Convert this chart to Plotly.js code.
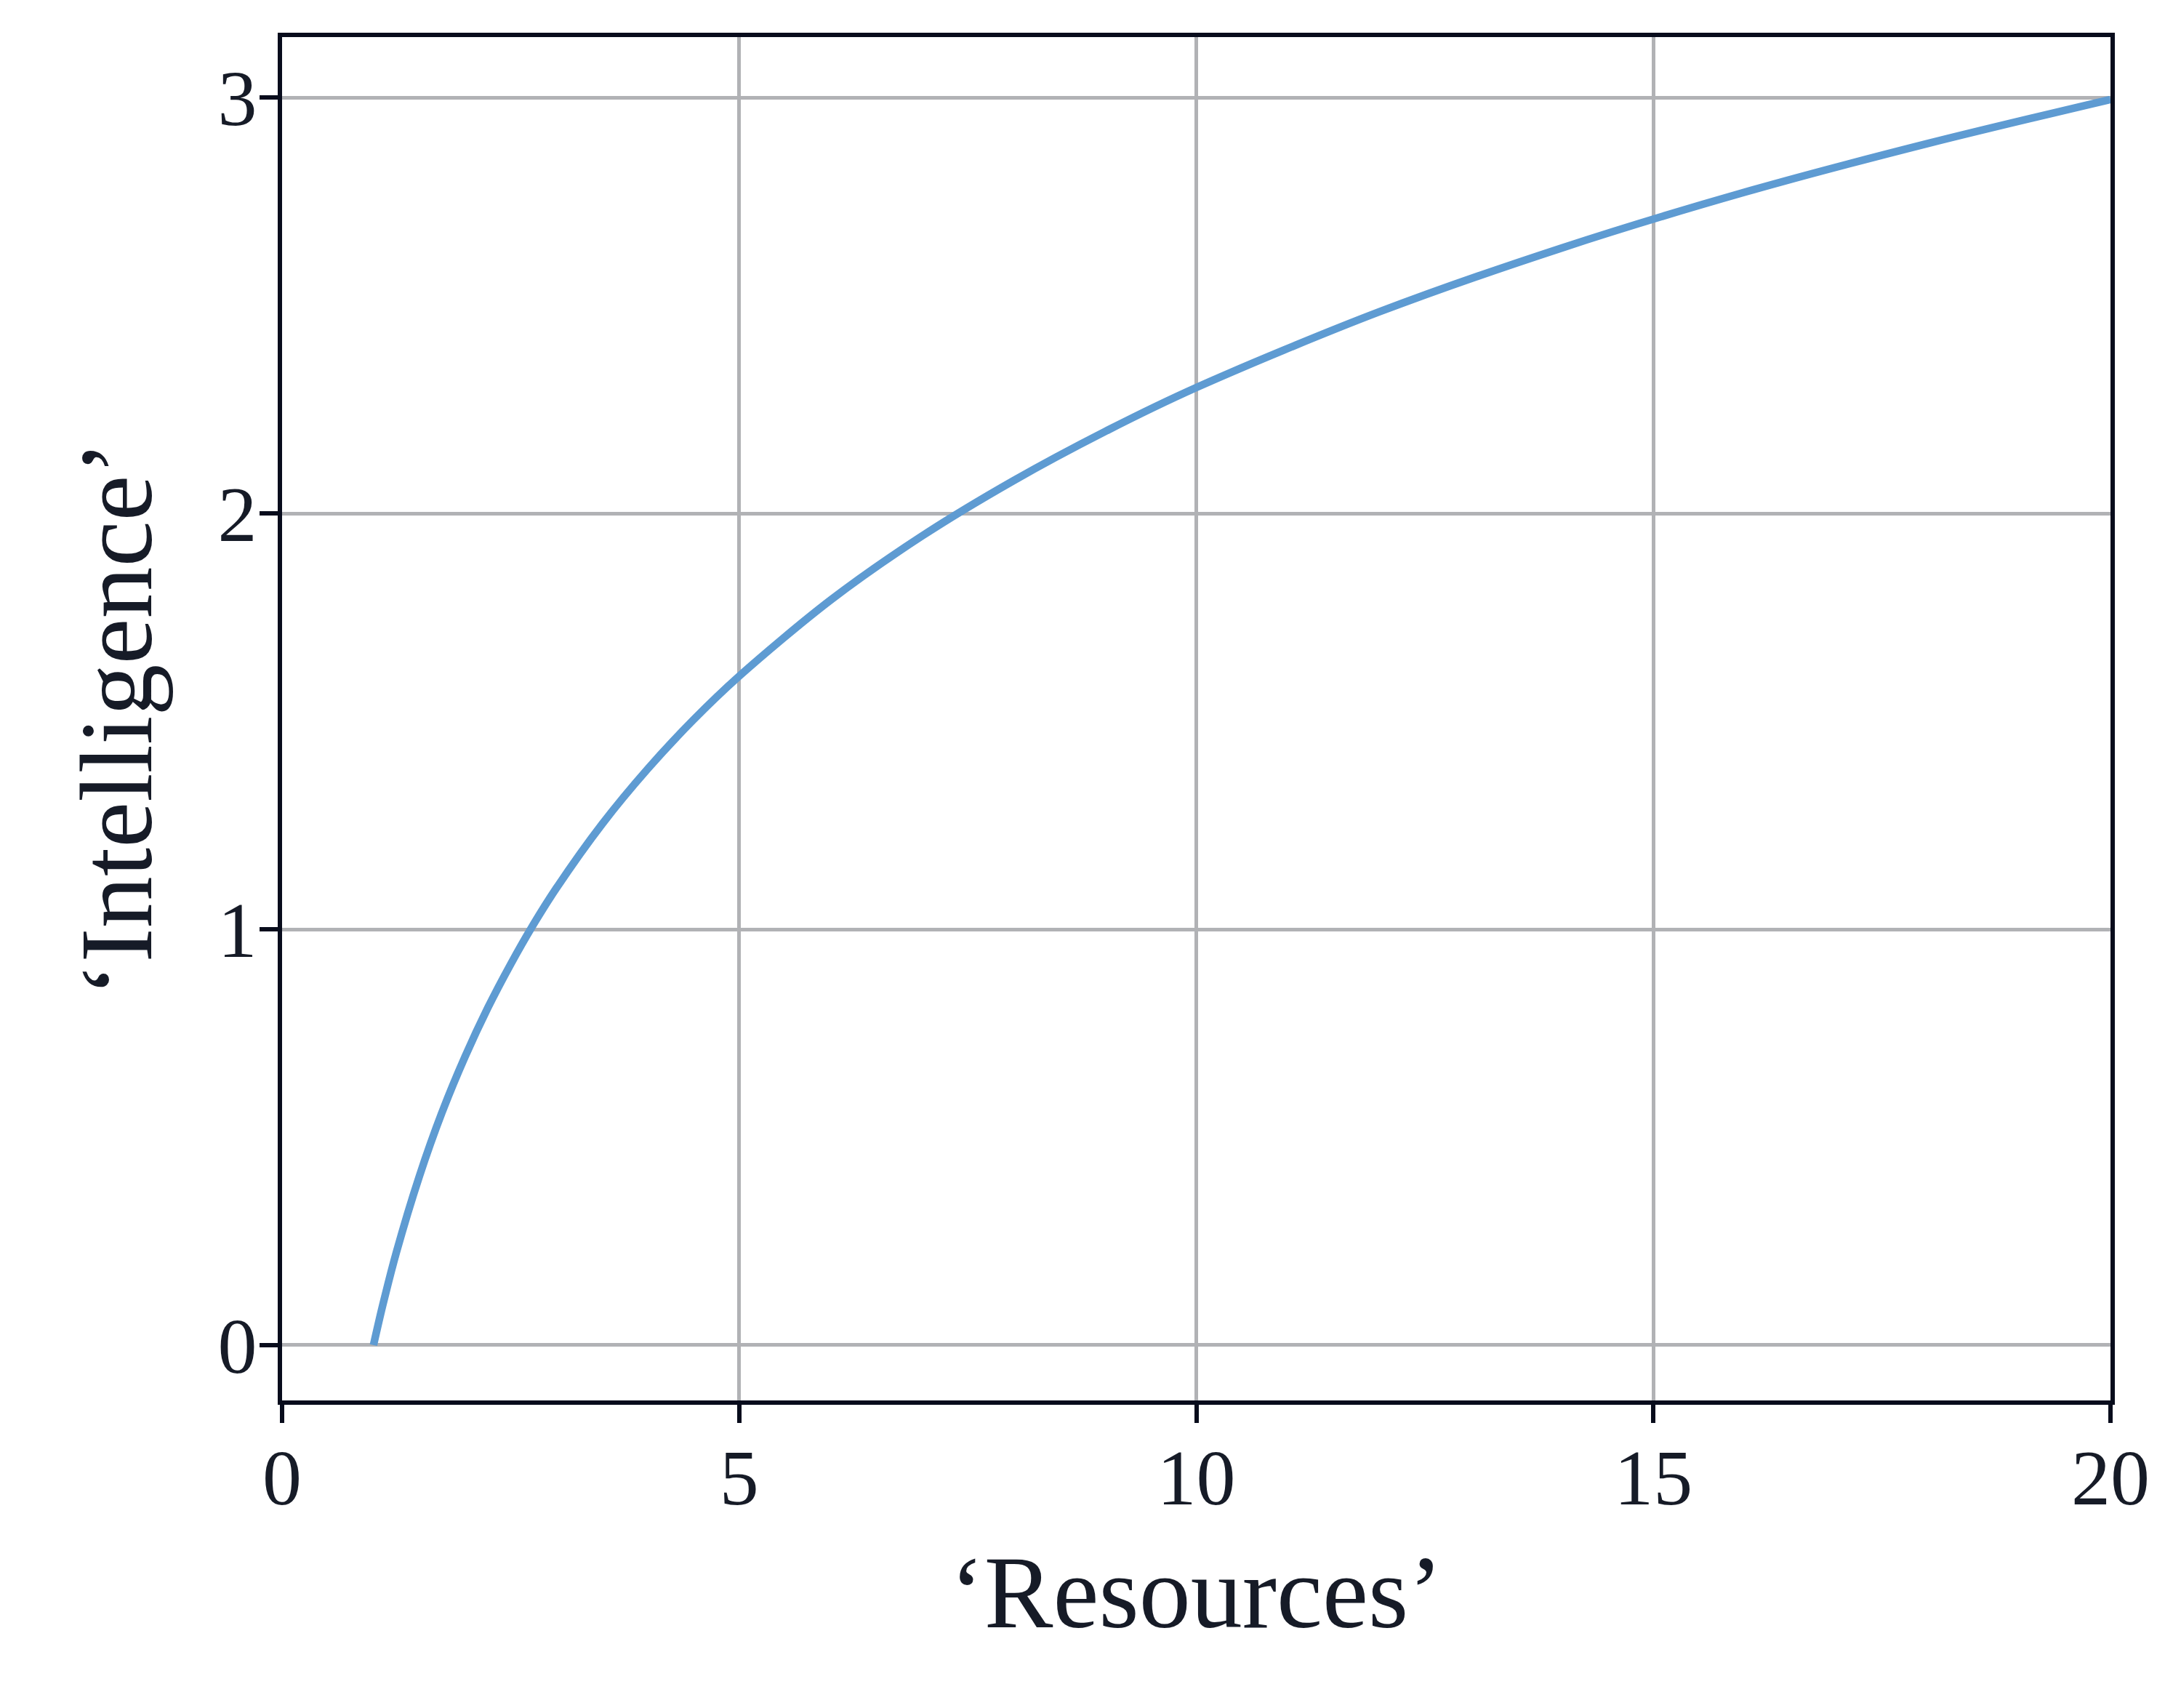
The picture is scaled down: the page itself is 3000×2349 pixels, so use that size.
<!DOCTYPE html>
<html>
<head>
<meta charset="utf-8">
<script src="https://cdn.plot.ly/plotly-3.0.1.min.js"></script>
<style>html,body{margin:0;padding:0;background:#fff;}#chart{width:3000px;height:2349px;}</style>
</head>
<body>
<div id="chart"></div>
<script>
// Values
const resources = [1, 1.1, 1.25, 1.5, 1.75, 2, 2.25, 2.5, 2.75, 3, 3.5, 4, 4.5, 5, 6, 7, 8, 9, 10, 12, 14, 16, 18, 20];
const intelligence = [0, 0.095, 0.223, 0.405, 0.560, 0.693, 0.811, 0.916, 1.012, 1.099, 1.253, 1.386, 1.504, 1.609, 1.792, 1.946, 2.079, 2.197, 2.303, 2.485, 2.639, 2.773, 2.890, 2.996];
const xTicks = [0, 5, 10, 15, 20];
const yTicks = [0, 1, 2, 3];
const xTitle = "‘Resources’";
const yTitle = "‘Intelligence’";

const FONT = "'Liberation Serif', 'DejaVu Serif', serif";
const INK = "#161b27";
const AXIS = "#080c1c";
const GRID = "#b1b2b5";

const trace = {
  x: resources,
  y: intelligence,
  type: "scatter",
  mode: "lines",
  line: {color: "#5e9bd2", width: 10.5, shape: "spline", smoothing: 0.9},
  hoverinfo: "skip"
};

const axisCommon = {
  showline: true, mirror: true, linecolor: AXIS, linewidth: 6,
  showgrid: true, gridcolor: GRID, gridwidth: 5,
  zeroline: false,
  ticks: "outside", ticklen: 25, tickwidth: 6, tickcolor: AXIS,
  tickfont: {family: FONT, size: 108, color: INK},
  automargin: false
};

const layout = {
  width: 3000, height: 2349,
  margin: {l: 388, r: 97, t: 51, b: 423},
  paper_bgcolor: "#ffffff", plot_bgcolor: "#ffffff",
  showlegend: false,
  font: {family: FONT, color: INK},
  xaxis: Object.assign({}, axisCommon, {
    range: [0, 20], tickmode: "array", tickvals: xTicks, ticktext: xTicks.map(String),
    ticklabelstandoff: -18,
    title: {text: xTitle, font: {family: FONT, size: 142, color: INK}, standoff: 50}
  }),
  yaxis: Object.assign({}, axisCommon, {
    range: [-0.133, 3.146], tickmode: "array", tickvals: yTicks, ticktext: yTicks.map(String),
    ticklabelstandoff: -18,
    title: {text: yTitle, font: {family: FONT, size: 142, color: INK}, standoff: 45}
  })
};

Plotly.newPlot("chart", [trace], layout, {staticPlot: true, displayModeBar: false});
</script>
</body>
</html>
